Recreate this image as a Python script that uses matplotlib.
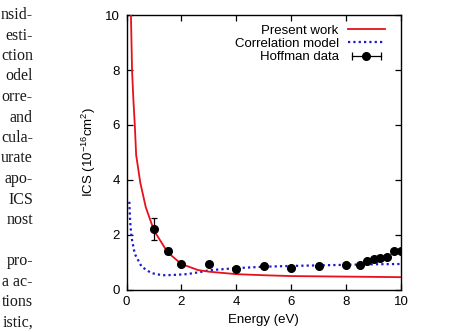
import matplotlib
matplotlib.use("Agg")
import matplotlib.pyplot as plt
from matplotlib.lines import Line2D
from matplotlib.legend_handler import HandlerLine2D, HandlerTuple

plt.rcParams['font.family'] = ['Liberation Sans', 'DejaVu Sans']
plt.rcParams['mathtext.default'] = 'regular'

# present work (red solid)
pw_x = [0.15, 0.2, 0.25, 0.3, 0.35, 0.5, 0.7, 1.0, 1.5, 2.0, 2.6, 3.0, 4.0, 5.0, 6.0, 7.0, 8.0, 9.0, 10.0]
pw_y = [10.5, 8.0, 6.9, 6.0, 4.9, 3.9, 3.0, 2.15, 1.35, 0.93, 0.71, 0.65, 0.56, 0.52, 0.49, 0.48, 0.47, 0.46, 0.45]

# correlation model (blue dotted)
cm_x = [0.1, 0.13, 0.18, 0.3, 0.55, 0.9, 1.3, 1.7, 2.2, 2.7, 3.0, 4.0, 5.0, 6.0, 7.0, 8.0, 9.0, 10.0]
cm_y = [3.2, 2.5, 1.9, 1.3, 0.83, 0.6, 0.52, 0.53, 0.56, 0.64, 0.7, 0.78, 0.83, 0.86, 0.88, 0.9, 0.92, 0.93]

# Hoffman measurements
hd_x = [1.0, 1.5, 2.0, 3.0, 4.0, 5.0, 6.0, 7.0, 8.0, 8.5, 8.75, 9.0, 9.25, 9.5, 9.75, 10.0]
hd_y = [2.2, 1.41, 0.93, 0.94, 0.76, 0.84, 0.78, 0.86, 0.9, 0.9, 1.04, 1.1, 1.16, 1.2, 1.4, 1.4]
hd_err = [0.4, 0.12, 0.08, 0.05, 0.05, 0.05, 0.05, 0.05, 0.05, 0.05, 0.05, 0.05, 0.05, 0.05, 0.05, 0.05]

# column of text running down the left margin
side_text = ["nsid-", "esti-", "ction", "odel", "orre-", "and", "cula-",
             "urate", "apo-", "ICS", "nost", "", "pro-", "a ac-",
             "tions", "istic,"]

fig = plt.figure(figsize=(4.74, 3.32), dpi=100)
ax = fig.add_axes([0.267, 0.128, 0.579, 0.826])

ax.plot(pw_x, pw_y, color='#e8101a', lw=1.3, zorder=3)
ax.plot(cm_x, cm_y, color='#1a1ad0', lw=1.6, ls=(0, (1, 1.4)), zorder=2)
ax.errorbar(hd_x, hd_y, yerr=hd_err, fmt='o', color='black', ms=5.5, lw=0.9,
            capsize=2.5, capthick=0.9, zorder=4)

ax.set_xlim(0, 10)
ax.set_ylim(0, 10)
ax.set_xticks([0, 2, 4, 6, 8, 10])
ax.set_yticks([0, 2, 4, 6, 8, 10])
ax.tick_params(direction='in', length=4, width=0.9, top=True, right=True,
               labelsize=9.5, pad=5)
for s in ax.spines.values():
    s.set_linewidth(1.0)

ax.set_xlabel('Energy (eV)', fontsize=9.5, labelpad=4)
ax.set_ylabel('ICS (10$^{-16}$cm$^{2}$)', fontsize=9.5, labelpad=5)

# legend handles, errorbar drawn horizontally with end caps
h_pw = Line2D([], [], color='#e8101a', lw=1.3)
h_cm = Line2D([], [], color='#1a1ad0', lw=1.6, ls=(0, (1, 1.4)))
h_bar = Line2D([], [], color='black', lw=0.9, marker='|', ms=6, mew=0.9)
h_dot = Line2D([], [], color='black', ls='none', marker='o', ms=5.5)
leg = ax.legend([h_pw, h_cm, (h_bar, h_dot)],
                ['Present work', 'Correlation model', 'Hoffman data'],
                handler_map={h_bar: HandlerLine2D(numpoints=2),
                             h_dot: HandlerLine2D(numpoints=1),
                             tuple: HandlerTuple(ndivide=1)},
                loc='upper right', markerfirst=False, frameon=False, fontsize=9.5,
                handlelength=2.8, handletextpad=0.7, labelspacing=0.08,
                borderaxespad=0.3, bbox_to_anchor=(0.975, 1.0))

for i, line in enumerate(side_text):
    fig.text(33 / 474, 1 - (15 + 20.5 * i) / 332, line, ha='right', va='center',
             fontsize=11.5, family='Liberation Serif', color='#1a1a1a')

fig.savefig('out.png', dpi=100)
